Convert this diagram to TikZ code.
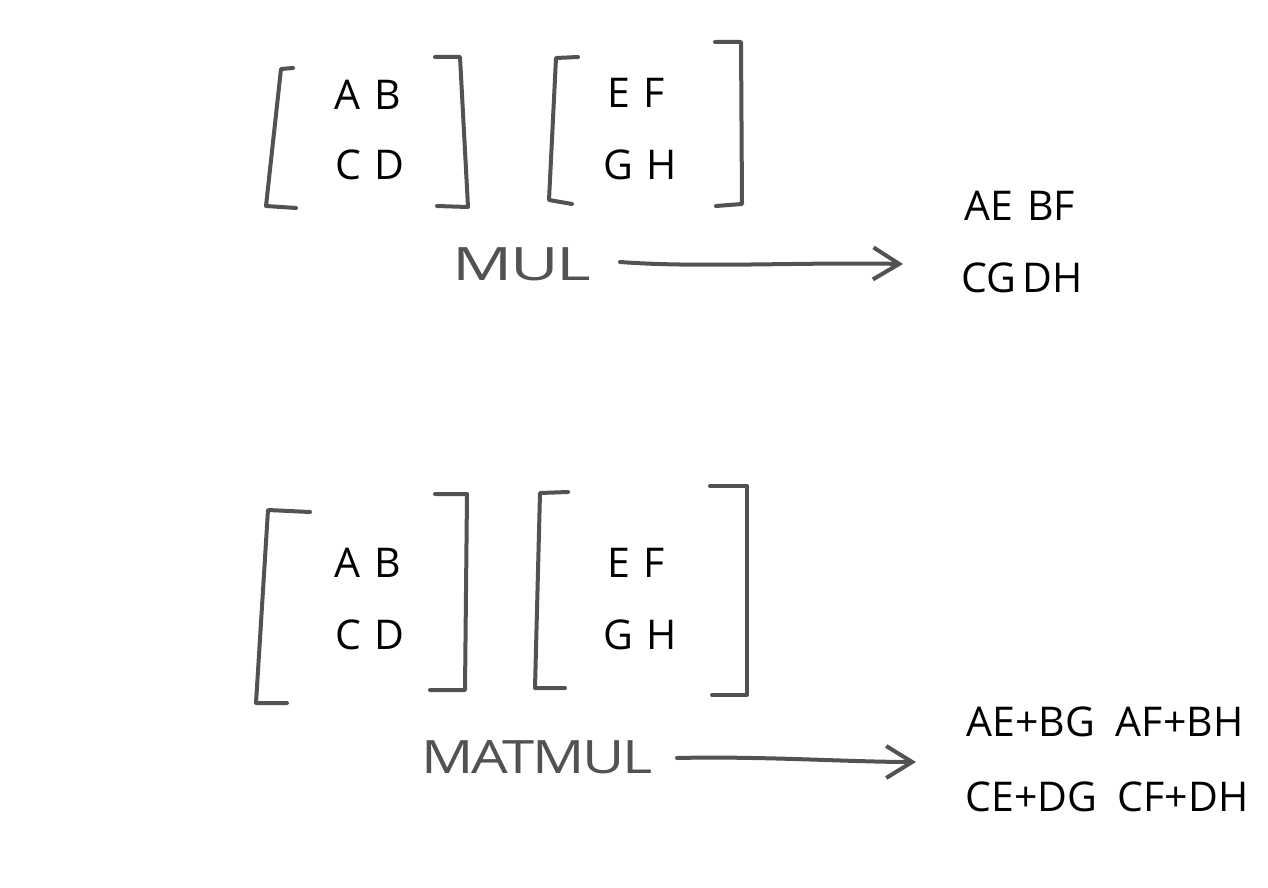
\documentclass[tikz,border=0pt]{standalone}
\usepackage{fontspec}
\setmainfont{Open Sans}
\usetikzlibrary{arrows.meta}
\begin{document}
\begin{tikzpicture}[x=1pt,y=-1pt,
  pen/.style={draw=black!68,line width=4pt,line cap=round,line join=round},
  ent/.style={font=\fontsize{41}{48}\selectfont,inner sep=0pt},
  hand/.style={font=\fontsize{46}{52}\selectfont\addfontfeature{LetterSpace=-4},text=black!68,inner sep=0pt,xscale=1.45},
  arr/.style={pen,-{Straight Barb[length=26pt,width=32pt,line width=4pt]}}]
\useasboundingbox (0,0) rectangle (1268,888);
% top
\draw[pen] (293,68) -- (281,69) -- (266,206) -- (296,208);
\draw[pen] (435,57) -- (460,57) -- (468,207) -- (437,206);
\draw[pen] (578,57) -- (556,58) -- (549,200) -- (572,204);
\draw[pen] (715,42) -- (741,42) -- (742,204) -- (716,206);
\node[ent] (ab1) at (368,95) {A\,\,B};
\node[ent] (cd1) at (370,165) {C\,\,D};
\node[ent] (ef1) at (636,93) {E\,\,F};
\node[ent] (gh1) at (640,165) {G\,\,H};
\node[hand] (mul) at (522,264) {MUL};
\coordinate (a1s) at (620,262);
\coordinate (a1e) at (903,264);
\draw[arr] (a1s) .. controls (700,268) and (800,262) .. (a1e);
\node[ent] (r1) at (1020,206) {AE\,\,BF};
\node[ent] (r2) at (1022,278) {CG\,DH};
% bottom
\draw[pen] (310,512) -- (268,510) -- (256,703) -- (287,703);
\draw[pen] (435,494) -- (467,494) -- (465,690) -- (430,690);
\draw[pen] (568,492) -- (540,493) -- (535,688) -- (565,688);
\draw[pen] (710,486) -- (747,486) -- (747,695) -- (712,695);
\node[ent] (ab2) at (368,563) {A\,\,B};
\node[ent] (cd2) at (370,635) {C\,\,D};
\node[ent] (ef2) at (636,563) {E\,\,F};
\node[ent] (gh2) at (640,635) {G\,\,H};
\node[hand,xscale=0.87] (mm) at (537,757) {MATMUL};
\coordinate (a2s) at (677,758);
\coordinate (a2e) at (916,762);
\draw[arr] (a2s) .. controls (760,756) and (850,762) .. (a2e);
\node[ent] (r3) at (1105,722) {AE+BG\,\,\,AF+BH};
\node[ent] (r4) at (1107,797) {CE+DG\,\,\,CF+DH};
\end{tikzpicture}
\end{document}
